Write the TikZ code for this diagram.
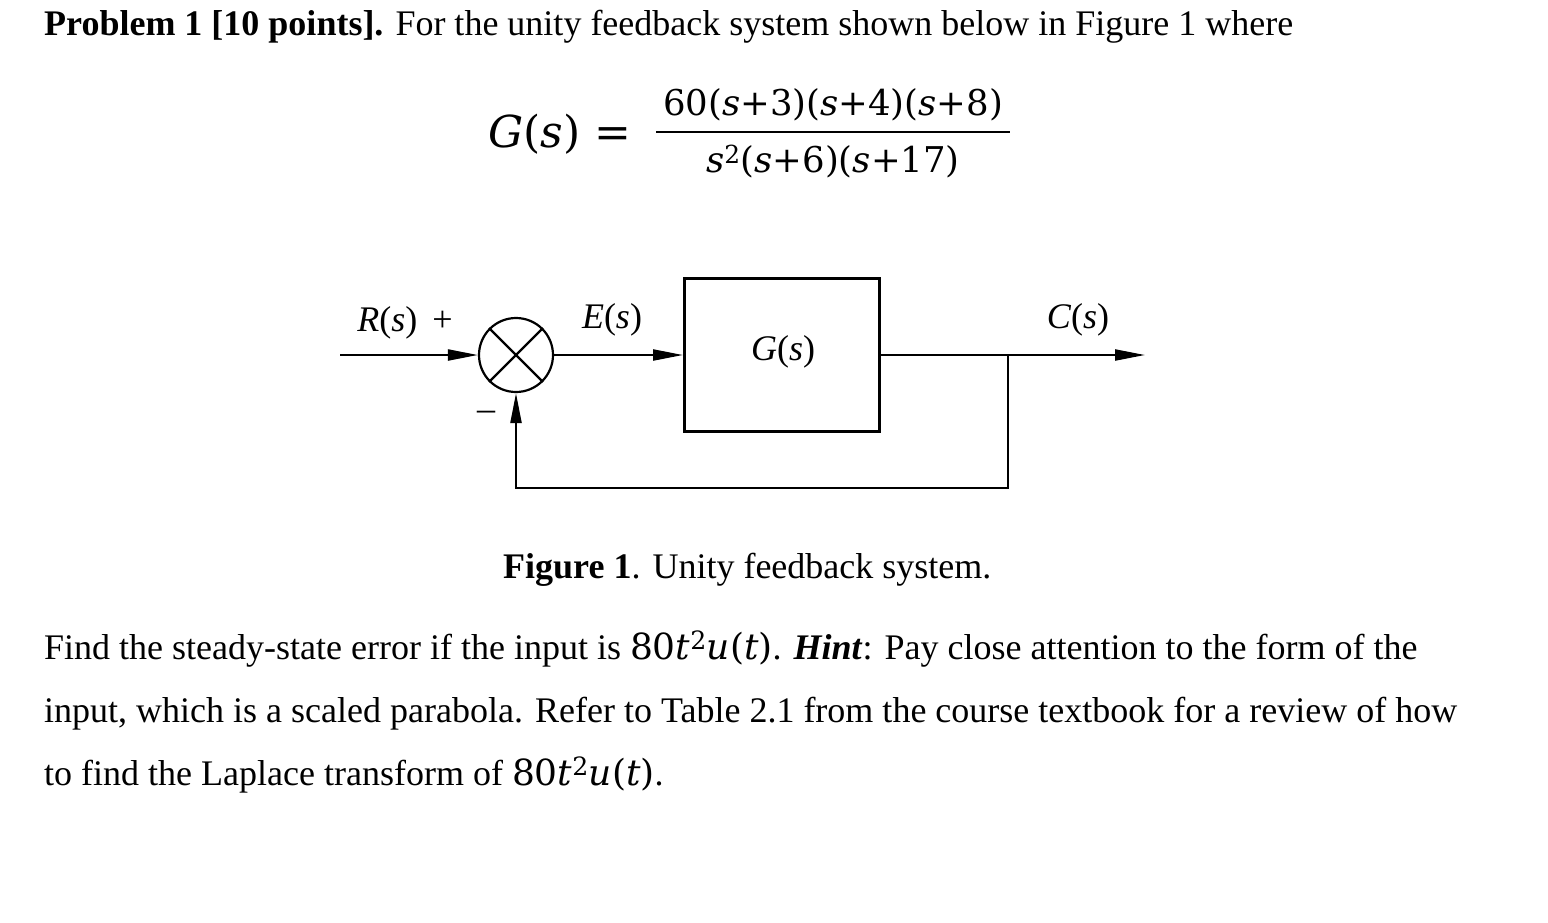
\documentclass[tikz,border=0pt]{standalone}
\usepackage{fontspec}
\setmainfont{Liberation Serif}
\newfontfamily\eqf{DejaVu Serif}
\usetikzlibrary{arrows.meta}
\newcommand{\ms}{\textit{s}}
\newcommand{\tu}{\textit{t}}
\newcommand{\me}{80\tu\textsuperscript{2}\textit{u}(\tu)}
\begin{document}
\begin{tikzpicture}[x=1pt,y=-1pt,
  txt/.style={inner sep=0pt,anchor=base west,font=\fontsize{36}{40}\selectfont},
  lbl/.style={inner sep=0pt,font=\fontsize{36}{40}\selectfont},
  eqt/.style={inner sep=0pt,font=\eqf\fontsize{35.5}{40}\selectfont},
  wire/.style={line width=2.2pt},
  arr/.style={wire,-{Triangle[length=30pt,width=11pt]}}]
\useasboundingbox (0,0) rectangle (1548,922);
\node[txt] (t1) at (44,35) {\textbf{Problem 1 [10 points].} For the unity feedback system shown below in Figure 1 where};
% equation
\node[eqt,font=\eqf\fontsize{44}{48}\selectfont] (glhs) at (560,134) {\textit{G}(\textit{s}) =};
\node[eqt] (num) at (833,105) {60(\ms+3)(\ms+4)(\ms+8)};
\node[eqt] (den) at (833,162) {\ms\textsuperscript{2}(\ms+6)(\ms+17)};
\draw[line width=1.8pt] (656,132) -- (1010,132);
% block diagram
\node[draw,circle,line width=2.2pt,minimum size=74pt,inner sep=0pt] (sum) at (516,355) {};
\draw[line width=2.2pt] (sum.north west) -- (sum.south east) (sum.north east) -- (sum.south west);
\node[draw,line width=3pt,minimum width=195pt,minimum height=153pt] (g) at (782,355) {};
\node[lbl] (glab) at (783,352) {\textit{G}(\ms)};
\coordinate (in) at (340,355);
\coordinate (out) at (1145,355);
\coordinate (br) at (1008,355);
\coordinate (b1) at (1008,488);
\coordinate (b2) at (516,488);
\draw[arr] (in) -- (sum.west);
\draw[arr] (sum.east) -- (g.west);
\draw[arr] (g.east) -- (out);
\draw[arr] (br) -- (b1) -- (b2) -- (sum.south);
\node[lbl] (rl) at (405,323) {\textit{R}(\ms) \,+};
\node[lbl] (el) at (612,320) {\textit{E}(\ms)};
\node[lbl] (cl) at (1078,320) {\textit{C}(\ms)};
\node[lbl] (mn) at (486,416) {\textendash};
\node[txt] (cap) at (503,578) {\textbf{Figure 1}. Unity feedback system.};
\node[txt] (p1) at (44,659) {Find the steady-state error if the input is {\eqf\me}. \textbf{\textit{Hint}}: Pay close attention to the form of the};
\node[txt] (p2) at (44,722) {input, which is a scaled parabola. Refer to Table 2.1 from the course textbook for a review of how};
\node[txt] (p3) at (44,785) {to find the Laplace transform of {\eqf\me}.};
\end{tikzpicture}
\end{document}
